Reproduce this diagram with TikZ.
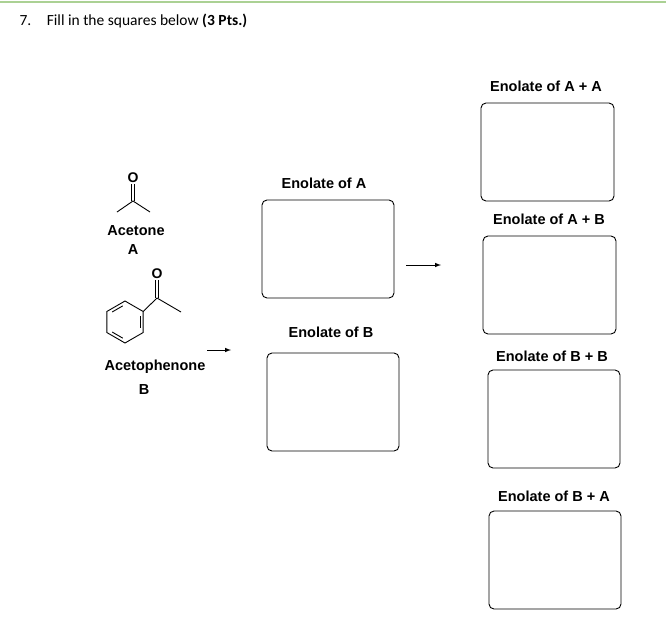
\documentclass[tikz,border=0pt]{standalone}
\usepackage{fontspec}
\usetikzlibrary{calc}
\setmainfont{Liberation Sans}
\newfontfamily\calib{Carlito}
\begin{document}
\begin{tikzpicture}[x=1pt,y=-1pt,
  box/.style={draw,rounded corners=5pt,line width=0.9pt},
  lbl/.style={font=\fontsize{14.5}{16}\selectfont\bfseries},
  bond/.style={line width=0.9pt},
  arr/.style={-latex,line width=1pt}]
\useasboundingbox (0,0) rectangle (666,619);
\draw[green!50!lime!40!gray!60,line width=2pt] (0,2) -- (666,2);
\node[anchor=west,font=\calib\fontsize{15.5}{17}\selectfont] (title) at (16,21) {7.\quad Fill in the squares below \textbf{(3 Pts.)}};
% Acetone
\node[font=\fontsize{14}{16}\selectfont\bfseries,inner sep=1pt] (oa) at (133,178) {O};
\coordinate (ca) at (133,201);
\coordinate (m1) at (117,212);
\coordinate (m2) at (150,212);
\draw[bond] ($(oa.south)+(-1.5,0)$) -- ($(ca)+(-1.5,0)$);
\draw[bond] ($(oa.south)+(1.5,0)$) -- ($(ca)+(1.5,0)$);
\draw[bond] (m1) -- (ca) -- (m2);
\node[lbl] (acet) at (136,231) {Acetone};
\node[lbl] (a) at (133,250) {A};
% Acetophenone
\node[font=\fontsize{14}{16}\selectfont\bfseries,inner sep=1pt] (ob) at (157,274) {O};
\coordinate (cb) at (157,298);
\coordinate (mb) at (181,312);
\draw[bond] ($(ob.south)+(-1.5,0)$) -- ($(cb)+(-1.5,0)$);
\draw[bond] ($(ob.south)+(1.5,0)$) -- ($(cb)+(1.5,0)$);
\draw[bond] (cb) -- (mb);
\coordinate (rc) at (125,322);
\foreach \i in {0,...,5}{\coordinate (v\i) at ($(rc)+({60*\i-30}:21)$);}
\draw[bond] (cb) -- (v0);
\draw[bond] (v0)--(v1)--(v2)--(v3)--(v4)--(v5)--cycle;
\foreach \a/\b in {0/1,2/3,4/5}{\draw[bond] ($(v\a)!0.15!(v\b)!0.17!(rc)$) -- ($(v\b)!0.15!(v\a)!0.17!(rc)$);}
\node[lbl] (acp) at (155,367) {Acetophenone};
\node[lbl] (b) at (144,390) {B};
\coordinate (ar1s) at (207,350); \coordinate (ar1e) at (231,350);
\draw[arr] (ar1s) -- (ar1e);
% middle
\node[lbl] (ea) at (324,183) {Enolate of A};
\draw[box] (262,200) rectangle (394,298);
\node[lbl] (eb) at (331,332) {Enolate of B};
\draw[box] (267,353) rectangle (399,451);
\coordinate (ar2s) at (406,265); \coordinate (ar2e) at (441,265);
\draw[arr] (ar2s) -- (ar2e);
% right
\node[lbl] (eaa) at (546,86) {Enolate of A + A};
\draw[box] (481,103) rectangle (614,201);
\node[lbl] (eab) at (549,219) {Enolate of A + B};
\draw[box] (483,236) rectangle (616,334);
\node[lbl] (ebb) at (552,356) {Enolate of B + B};
\draw[box] (488,370) rectangle (620,468);
\node[lbl] (eba) at (554,496) {Enolate of B + A};
\draw[box] (489,511) rectangle (621,609);
\end{tikzpicture}
\end{document}
